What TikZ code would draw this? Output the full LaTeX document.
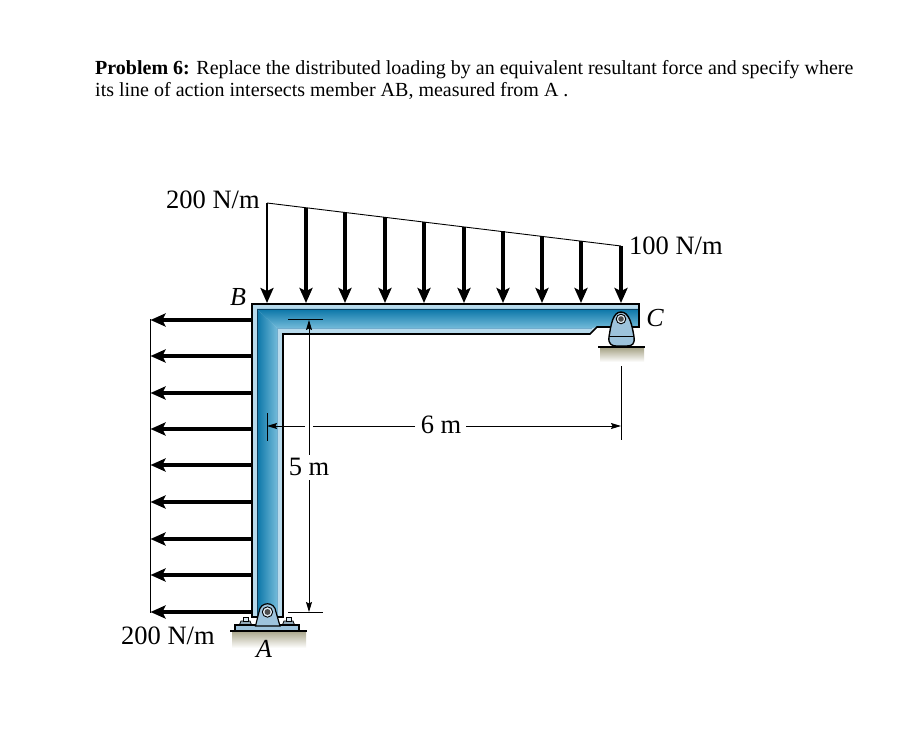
\documentclass[tikz,border=0pt]{standalone}
\usepackage{fontspec}
\setmainfont{Liberation Serif}
\usetikzlibrary{arrows.meta}
\definecolor{beamlight}{HTML}{B7DAEC}
\definecolor{beamdeep}{HTML}{0B76A8}
\definecolor{beammid}{HTML}{72BAD9}
\definecolor{beamline}{HTML}{0C3F5F}
\definecolor{steel}{HTML}{9DC3DC}
\definecolor{shadow}{HTML}{A9A68A}
\tikzset{
  load/.style={line width=3.3pt,-{Stealth[length=15pt,width=13pt,inset=3pt]}},
  edge/.style={line width=1pt,black},
  dim/.style={line width=1pt,black},
  dimarrow/.style={line width=1pt,black,-{Stealth[length=10pt,width=6pt,inset=1.5pt]}},
  lab/.style={inner sep=0pt,font=\fontsize{26.5}{28}\selectfont},
  ital/.style={inner sep=0pt,font=\fontsize{26}{28}\selectfont\itshape},
  prob/.style={inner sep=0pt,anchor=base west,font=\fontsize{20}{22}\selectfont},
}
\begin{document}
\begin{tikzpicture}[x=1pt,y=-1pt]
\useasboundingbox (0,0) rectangle (911,730);
\fill[white] (0,0) rectangle (911,730);
% problem text
\node[prob] (t1) at (95,75) {\textbf{Problem 6:} Replace the distributed loading by an equivalent resultant force and specify where};
\node[prob] (t2) at (95,97) {its line of action intersects member AB, measured from A .};
% ground shadows
\shade[top color=shadow,bottom color=white] (232,631) rectangle (306,648);
\shade[top color=shadow,bottom color=white] (600,348) rectangle (644,362);
% frame
\fill[beamlight] (252,304) -- (639,304) -- (639,327) -- (597,327) -- (590,334) -- (283,334) -- (283,617) -- (252,617) -- cycle;
% horizontal gradient part
\begin{scope}
\clip (257,309) -- (639,309) -- (639,327) -- (597,327) -- (592,328) -- (277,328) -- cycle;
\shade[top color=beamdeep,bottom color=beammid] (257,309) rectangle (639,328);
\end{scope}
% vertical gradient part
\begin{scope}
\clip (257,309) -- (277,328) -- (277,617) -- (257,617) -- cycle;
\shade[left color=beamdeep,right color=beammid] (257,309) rectangle (277,617);
\end{scope}
\draw[beamline,line width=1.3pt] (639,309.5) -- (257.5,309.5) -- (257.5,617);
\draw[steel!70!beamdeep,line width=0.8pt] (592,328) -- (277.5,328) -- (277.5,617);
\draw[edge,line width=1.6pt] (639,327) -- (639,304) -- (252,304) -- (252,617) -- (283,617) -- (283,334) -- (590,334) -- (597,327) -- cycle;
% support A
\fill[steel!60!gray,draw=black,line width=0.8pt] (239,626) -- (241,621) -- (250,621) -- (252,626) -- cycle;
\fill[steel!60!gray,draw=black,line width=0.8pt] (282,626) -- (284,621) -- (293,621) -- (295,626) -- cycle;
\fill[steel!40!white,draw=black,line width=0.7pt] (243,617.5) rectangle (248,621);
\fill[steel!40!white,draw=black,line width=0.7pt] (286,617.5) rectangle (291,621);
\fill[steel,draw=black,line width=1.1pt] (235,625) rectangle (299,631);
\draw[line width=1.8pt] (230,631) -- (307,631);
\fill[steel,draw=black,line width=1.2pt] (255.5,626) -- (259,612) .. controls (260,601) and (275,601) .. (276,612) -- (280,626) -- cycle;
\fill[steel!30!white,draw=black,line width=0.9pt] (267.5,612) circle (5.2);
\fill[black!70] (267.5,612) circle (3);
% support C
\fill[steel,draw=black,line width=1.4pt] (621,312) .. controls (613,312) and (611,324) .. (609,337) .. controls (608,344) and (612,346) .. (616,346) -- (627,346) .. controls (632,346) and (635,344) .. (634,337) .. controls (632,324) and (629,312) .. (621,312) -- cycle;
\draw[line width=0.9pt] (609,336) -- (634,336);
\fill[steel!30!white,draw=black,line width=0.9pt] (621,319) circle (4.8);
\fill[black!70] (621,319) circle (2.8);
\draw[line width=1.8pt] (598,347) -- (645,347);
% load top lines
\coordinate (vl0) at (267,203);
\coordinate (vb0) at (267,303);
\foreach \i/\x/\yy in {1/306/208,2/345/212.5,3/385/217.5,4/424/222,5/464/227,6/503/231.5,7/542/236,8/581/241,9/621/246}{
  \coordinate (vl\i) at (\x,\yy);
  \coordinate (vb\i) at (\x,303);
}
\draw[line width=0.9pt] (vl0) -- (vl9);
\draw[load,line width=2.6pt] (vl0) -- (vb0);
\foreach \i in {1,...,9}{\draw[load] (vl\i) -- (vb\i);}
% horizontal loads
\foreach \i/\yy in {1/320,2/356,3/393,4/429,5/465,6/502,7/539,8/575,9/612}{
  \coordinate (hs\i) at (252,\yy);
  \coordinate (he\i) at (150.5,\yy);
  \draw[load] (hs\i) -- (he\i);
}
\draw[line width=1.3pt] (150.5,319) -- (150.5,613);
% dimension 6 m
\coordinate (d6a) at (267,413);
\coordinate (d6b) at (267,441);
\coordinate (d6c) at (621,366);
\coordinate (d6d) at (621,440);
\coordinate (d6l) at (267,426);
\coordinate (d6r) at (621,426);
\coordinate (d6g1) at (305,426);
\coordinate (d6g2) at (313,426);
\coordinate (d6s1) at (415,426);
\coordinate (d6s2) at (466,426);
\node[lab] (six) at (441,425) {6 m};
\draw[dim] (d6a) -- (d6b);
\draw[dim] (d6c) -- (d6d);
\draw[dimarrow] (d6g1) -- (d6l);
\draw[dim] (d6s1) -- (d6g2);
\draw[dimarrow] (d6s2) -- (d6r);
% dimension 5 m
\coordinate (d5a) at (288,320);
\coordinate (d5b) at (323,320);
\coordinate (d5c) at (288,612);
\coordinate (d5d) at (323,612);
\coordinate (d5t) at (309,320);
\coordinate (d5u) at (309,612);
\node[lab] (five) at (309,467) {5 m};
\draw[dim] (d5a) -- (d5b);
\draw[dim] (d5c) -- (d5d);
\draw[dimarrow] (five.north) ++(0,-3) -- (d5t);
\draw[dimarrow] (five.south) ++(0,4) -- (d5u);
% labels
\node[lab,anchor=west] (l200a) at (166,200) {200 N/m};
\node[lab,anchor=west] (l100) at (629,246) {100 N/m};
\node[lab,anchor=west] (l200b) at (121,636) {200 N/m};
\node[ital] (B) at (238,297) {B};
\node[ital] (C) at (655,318) {C};
\node[ital] (A) at (264,649) {A};
\end{tikzpicture}
\end{document}
